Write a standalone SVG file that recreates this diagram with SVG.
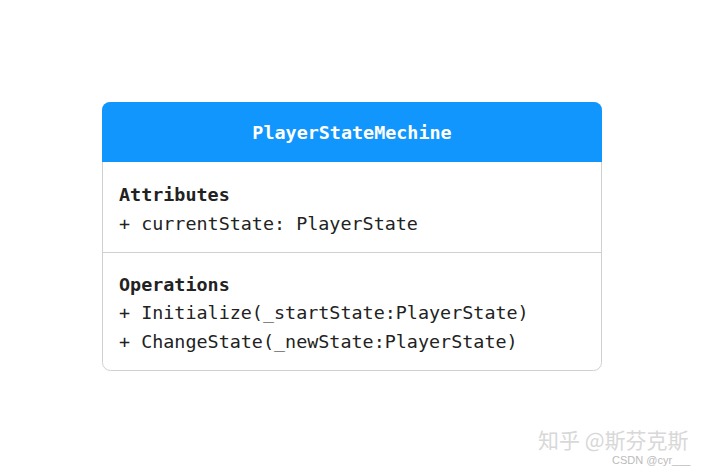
<svg xmlns="http://www.w3.org/2000/svg" width="704" height="474" viewBox="0 0 704 474">
<style>
.mono{font-family:"DejaVu Sans Mono","Liberation Mono",monospace;font-size:18.4px;fill:#222}
.b{font-weight:bold}
.title{fill:#fff;font-weight:bold}
.wm{font-family:"Noto Sans CJK SC","Noto Sans",sans-serif;fill:#d8d8d8}
</style>
<rect width="704" height="474" fill="#fff"/>
<g id="PlayerStateMechine">
<rect x="102.5" y="102.5" width="499" height="268" rx="8" fill="#fff" stroke="#d0d0d0"/>
<path d="M102 162 V110 a8 8 0 0 1 8 -8 H594 a8 8 0 0 1 8 8 V162 Z" fill="#1196fe"/>
<text class="mono title" x="352" y="139" text-anchor="middle">PlayerStateMechine</text>
<text class="mono b" x="119" y="201">Attributes</text>
<text class="mono" x="119" y="230">+ currentState: PlayerState</text>
<line x1="103" y1="252.5" x2="601" y2="252.5" stroke="#d0d0d0"/>
<text class="mono b" x="119" y="291">Operations</text>
<text class="mono" x="119" y="319">+ Initialize(_startState:PlayerState)</text>
<text class="mono" x="119" y="348">+ ChangeState(_newState:PlayerState)</text>
</g>
<g id="connectors"/>
<text class="wm" x="538" y="448" font-size="21">知乎 @斯芬克斯</text>
<text x="612" y="464" font-family="Liberation Sans,sans-serif" font-size="11" fill="#bbb">CSDN @cyr___</text>
</svg>
